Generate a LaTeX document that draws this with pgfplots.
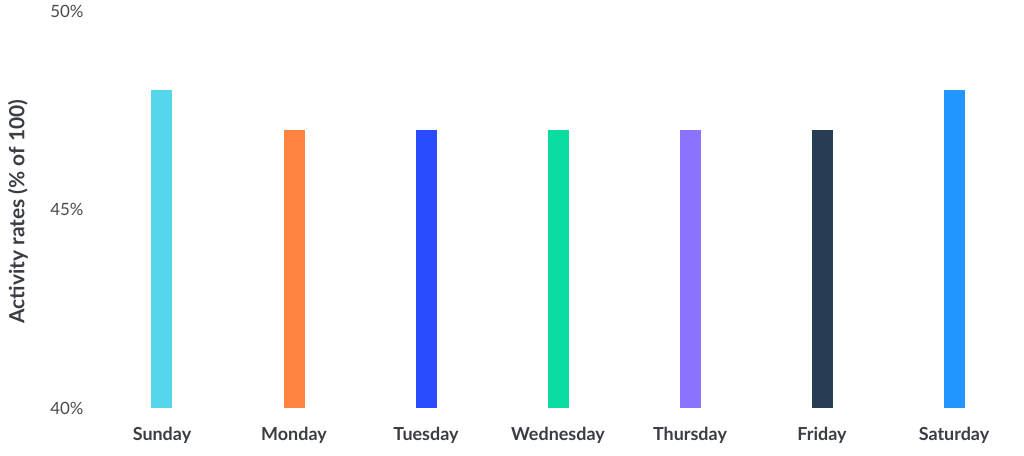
\documentclass[border=0pt]{standalone}
\usepackage{pgfplots}
\pgfplotsset{compat=1.18}
\usepackage{fontspec}
\setmainfont{Lato}
\definecolor{cSun}{HTML}{55D6EC}
\definecolor{cMon}{HTML}{FF8340}
\definecolor{cTue}{HTML}{2B4BFF}
\definecolor{cWed}{HTML}{0BDCA0}
\definecolor{cThu}{HTML}{8C73FF}
\definecolor{cFri}{HTML}{263D54}
\definecolor{cSat}{HTML}{2196FF}
\definecolor{tickgray}{HTML}{4A4A4A}
\definecolor{labgray}{HTML}{3A3D44}
\begin{document}
\begin{tikzpicture}
\begin{axis}[
  scale only axis,
  width=924bp, height=397bp,
  xmin=-0.5, xmax=6.5,
  ymin=40, ymax=50,
  ytick={40,45,50},
  yticklabel={\pgfmathprintnumber{\tick}\%},
  /pgf/number format/assume math mode=true,
  xtick={0,1,2,3,4,5,6},
  xticklabels={Sunday,Monday,Tuesday,Wednesday,Thursday,Friday,Saturday},
  axis line style={draw=none},
  major tick length=0pt,
  tick label style={font=\fontsize{17}{20}\selectfont},
  yticklabel style={color=tickgray, xshift=-9bp},
  xticklabel style={color=labgray, font=\fontsize{18}{21}\selectfont\bfseries, yshift=-16bp},
  ylabel={Activity rates (\% of 100)},
  ylabel style={at={(axis description cs:0,0.5)}, anchor=center, yshift=78bp, xshift=-2bp, font=\fontsize{21}{24}\selectfont\bfseries, color=labgray},
  ybar, bar width=21bp, bar shift=0pt,
  clip=true,
]
\addplot[fill=cSun, draw=none] coordinates {(0,48)};
\addplot[fill=cMon, draw=none] coordinates {(1,47)};
\addplot[fill=cTue, draw=none] coordinates {(2,47)};
\addplot[fill=cWed, draw=none] coordinates {(3,47)};
\addplot[fill=cThu, draw=none] coordinates {(4,47)};
\addplot[fill=cFri, draw=none] coordinates {(5,47)};
\addplot[fill=cSat, draw=none] coordinates {(6,48)};
\coordinate (bl) at (rel axis cs:0,0);
\coordinate (tr) at (rel axis cs:1,1);
\end{axis}
\pgfresetboundingbox
\useasboundingbox ([xshift=-96bp,yshift=-47bp]bl) rectangle ([xshift=4bp,yshift=11bp]tr);
\end{tikzpicture}
\end{document}
